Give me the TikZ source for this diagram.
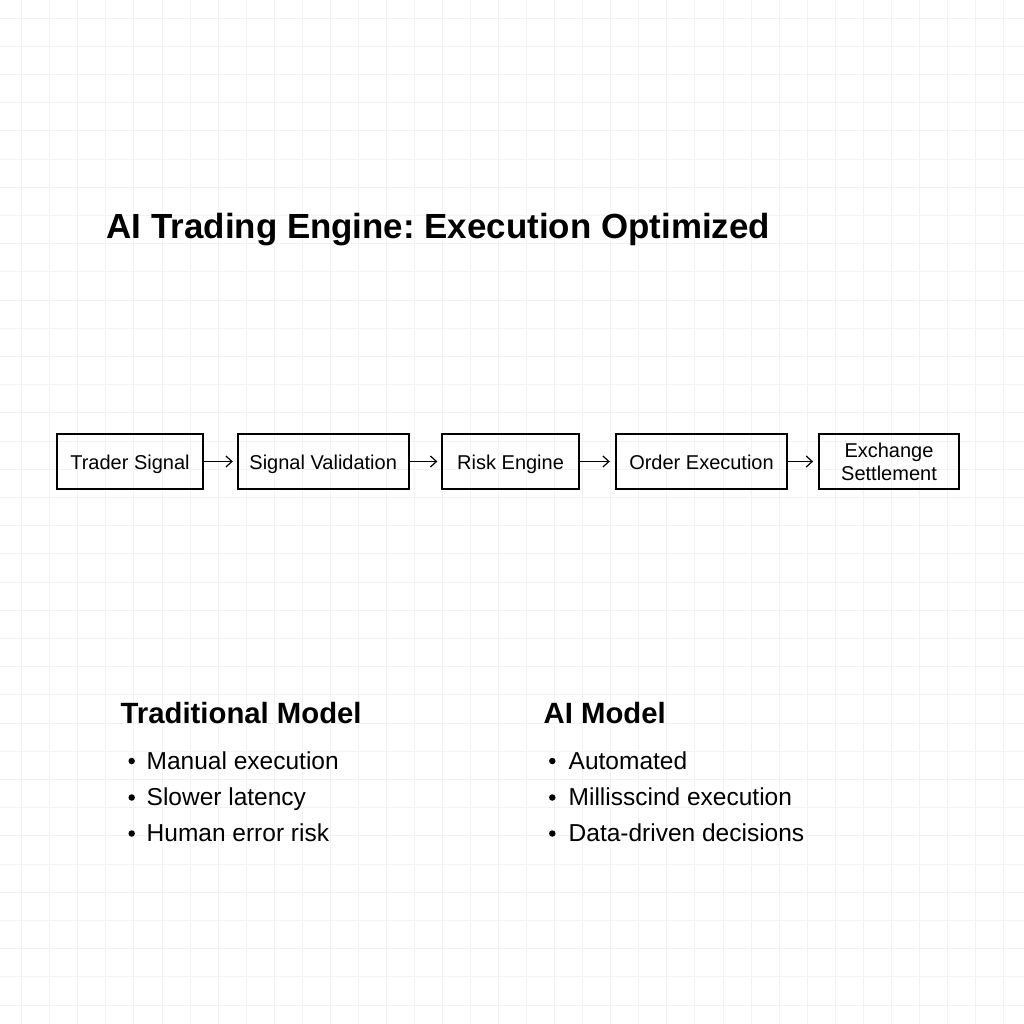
\documentclass[tikz,border=0pt]{standalone}
\usepackage{fontspec}
\setmainfont{Liberation Sans}
\usetikzlibrary{arrows.meta}
\begin{document}
\frenchspacing
\begin{tikzpicture}[x=1pt,y=-1pt,
  gridline/.style={draw=black!5,line width=0.9pt},
  stepbox/.style={draw=black,line width=1.8pt,minimum height=55pt,inner sep=0pt,align=center,
    font=\fontsize{20}{23}\selectfont},
  oneline/.style={text height=15pt,text depth=0pt},
  flow/.style={draw=black,line width=1.2pt,-{Straight Barb[length=6pt,width=11pt,line width=1.2pt]}},
  heading/.style={anchor=base west,inner sep=0pt,font=\fontsize{29.3}{34}\selectfont\bfseries},
  item/.style={anchor=base west,inner sep=0pt,font=\fontsize{24.5}{29}\selectfont},
  dot/.style={fill=black,circle,inner sep=0pt,minimum size=6.5pt}]
\useasboundingbox (0,0) rectangle (1024,1024);
\fill[white] (0,0) rectangle (1024,1024);
\foreach \i in {0,...,35} {\draw[gridline] ({21.7+28.05*\i},0) -- ++(0,1024);}
\foreach \i in {0,...,35} {\draw[gridline] (0,{18+28.2*\i}) -- ++(1024,0);}
% title
\node[anchor=base west,inner sep=0pt,font=\fontsize{34.9}{40}\selectfont\bfseries] (title) at (106.5,238.5) {AI Trading Engine: Execution Optimized};
% flow
\node[stepbox,oneline,minimum width=146.6pt] (b1) at (130,461.5) {Trader Signal};
\node[stepbox,oneline,minimum width=171pt] (b2) at (323.2,461.5) {Signal Validation};
\node[stepbox,oneline,minimum width=136.7pt] (b3) at (510.6,461.5) {Risk Engine};
\node[stepbox,oneline,minimum width=171.6pt] (b4) at (701.5,461.5) {Order Execution};
\node[stepbox,minimum width=140pt] (b5) at (889,461.5) {Exchange\\Settlement};
\draw[flow] (b1.east) -- ([xshift=-4pt]b2.west);
\draw[flow] (b2.east) -- ([xshift=-4pt]b3.west);
\draw[flow] (b3.east) -- ([xshift=-5pt]b4.west);
\draw[flow] (b4.east) -- ([xshift=-5pt]b5.west);
% traditional
\node[heading] (th) at (120.5,723.5) {Traditional Model};
\node[item] (t1) at (146.5,769.3) {Manual execution};
\node[item] (t2) at (146.5,805.8) {Slower latency};
\node[item] (t3) at (146.5,841.8) {Human error risk};
\node[dot] (td1) at (131.7,761) {};
\node[dot] (td2) at (131.7,797.5) {};
\node[dot] (td3) at (131.7,833.5) {};
% AI
\node[heading] (ah) at (543.5,723.5) {AI Model};
\node[item] (a1) at (568.5,769.3) {Automated};
\node[item] (a2) at (568.5,805.8) {Millisscind execution};
\node[item] (a3) at (568.5,841.8) {Data-driven decisions};
\node[dot] (ad1) at (552.3,761) {};
\node[dot] (ad2) at (552.3,797.5) {};
\node[dot] (ad3) at (552.3,833.5) {};
\end{tikzpicture}
\end{document}
